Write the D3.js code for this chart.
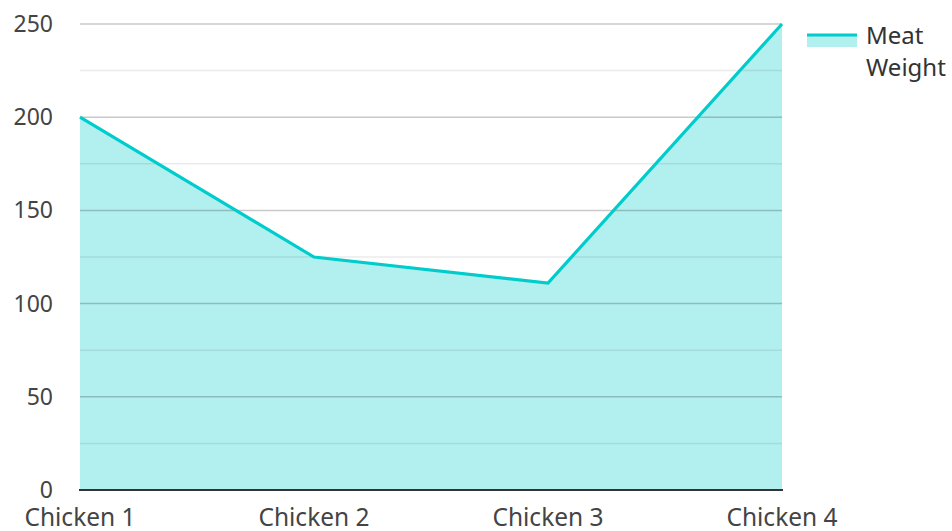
<!DOCTYPE html>
<html><head><meta charset="utf-8">
<script src="https://cdn.jsdelivr.net/npm/d3@7"></script>
<style>body{margin:0;background:#fff;}text{font-family:"Noto Sans","Open Sans",sans-serif;}</style>
</head><body><svg id="c" width="952" height="531"></svg>
<script>
const categories = ["Chicken 1","Chicken 2","Chicken 3","Chicken 4"];
const values = [200, 125, 111, 250];
const yTicks = [0, 50, 100, 150, 200, 250];
const minorTicks = [25, 75, 125, 175, 225];
const seriesName = ["Meat", "Weight"];

const svg = d3.select("#c");
const x = d3.scalePoint().domain(categories).range([80, 782]);
const y = d3.scaleLinear().domain([0, 250]).range([490, 24]);
const data = categories.map((c, i) => ({c, v: values[i]}));

svg.append("path").datum(data)
  .attr("fill", "#b2efef")
  .attr("d", d3.area().x(d => x(d.c)).y0(y(0)).y1(d => y(d.v)));

svg.append("g").selectAll("line").data(minorTicks).join("line")
  .attr("x1", 80).attr("x2", 782).attr("y1", d => y(d)).attr("y2", d => y(d))
  .attr("stroke", "rgba(0,0,0,0.08)").attr("stroke-width", 1.5);
svg.append("g").selectAll("line").data(yTicks.filter(t => t > 0)).join("line")
  .attr("x1", 80).attr("x2", 782).attr("y1", d => y(d)).attr("y2", d => y(d))
  .attr("stroke", "rgba(0,0,0,0.21)").attr("stroke-width", 1.5);

svg.append("path").datum(data)
  .attr("fill", "none").attr("stroke", "#00cccc").attr("stroke-width", 3.2)
  .attr("d", d3.line().x(d => x(d.c)).y(d => y(d.v)));

svg.append("line").attr("x1", 79).attr("x2", 783).attr("y1", y(0)).attr("y2", y(0))
  .attr("stroke", "#333").attr("stroke-width", 2);

svg.append("g").selectAll("text").data(yTicks).join("text")
  .attr("x", 53).attr("y", d => y(d)).attr("dy", "0.35em")
  .attr("text-anchor", "end").attr("font-size", 23).attr("fill", "#444")
  .text(d => d);

svg.append("g").selectAll("text").data(categories).join("text")
  .attr("x", d => x(d)).attr("y", 526)
  .attr("text-anchor", "middle").attr("font-size", 24.5).attr("fill", "#444")
  .text(d => d);

const lg = svg.append("g");
lg.append("rect").attr("x", 807).attr("y", 35).attr("width", 50).attr("height", 12).attr("fill", "#b2efef");
lg.append("line").attr("x1", 807).attr("x2", 857).attr("y1", 35).attr("y2", 35).attr("stroke", "#00cccc").attr("stroke-width", 3);
lg.selectAll("text").data(seriesName).join("text")
  .attr("x", 866).attr("y", (d, i) => 44 + i * 32)
  .attr("font-size", 24).attr("fill", "#333").text(d => d);
</script></body></html>
